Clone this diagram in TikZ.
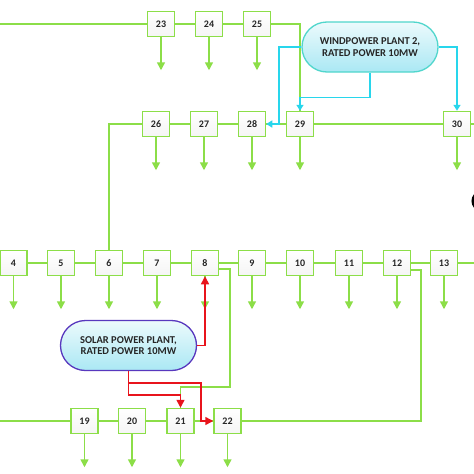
\documentclass[tikz,border=0pt]{standalone}
\usepackage{fontspec}
\setmainfont{Carlito}
\usetikzlibrary{arrows.meta,shapes.misc,calc}
\definecolor{gline}{RGB}{140,222,72}
\definecolor{cyanl}{RGB}{40,214,236}
\definecolor{redl}{RGB}{232,20,28}
\definecolor{windb}{RGB}{80,214,204}
\definecolor{solarb}{RGB}{88,56,190}
\definecolor{ovaltop}{RGB}{236,250,252}
\definecolor{ovalbot}{RGB}{170,232,244}
\tikzset{
  busbox/.style={draw=gline, line width=1.5pt, top color=white, bottom color=black!4,
    minimum width=27pt, minimum height=25pt, inner sep=0pt,
    font=\fontsize{10}{12}\selectfont\bfseries, text=black!85},
  gconn/.style={draw=gline, line width=1.5pt},
  garrow/.style={draw=gline, line width=1.5pt, -{Triangle[width=8pt,length=8pt]}},
  carrow/.style={draw=cyanl, line width=1.5pt, -{Triangle[width=7pt,length=6pt]}},
  rarrow/.style={draw=redl, line width=1.5pt, -{Triangle[width=8pt,length=8pt]}},
  plant/.style={rounded rectangle, line width=1.3pt, top color=ovaltop, bottom color=ovalbot,
    minimum width=136pt, minimum height=50pt, inner sep=0pt, align=center,
    font=\fontsize{10.5}{11.5}\selectfont\bfseries, text=black!85},
}
\begin{document}
\begin{tikzpicture}[x=1pt,y=-1pt]
\useasboundingbox (0,0) rectangle (474,474);
\fill[white] (0,0) rectangle (474,474);
% row 1
\node[busbox] (b23) at (161,24) {23};
\node[busbox] (b24) at (209,24) {24};
\node[busbox] (b25) at (257,24) {25};
% row 2
\node[busbox] (b26) at (156,124) {26};
\node[busbox] (b27) at (204,124) {27};
\node[busbox] (b28) at (252,124) {28};
\node[busbox] (b29) at (300,124) {29};
\node[busbox] (b30) at (457,124) {30};
% row 3
\node[busbox] (b4) at (13.5,263) {4};
\node[busbox] (b5) at (61,263) {5};
\node[busbox] (b6) at (109,263) {6};
\node[busbox] (b7) at (157,263) {7};
\node[busbox] (b8) at (205,263) {8};
\node[busbox] (b9) at (252,263) {9};
\node[busbox] (b10) at (300,263) {10};
\node[busbox] (b11) at (349,263) {11};
\node[busbox] (b12) at (397,263) {12};
\node[busbox] (b13) at (444,263) {13};
% row 4
\node[busbox] (b19) at (84.5,421) {19};
\node[busbox] (b20) at (132,421) {20};
\node[busbox] (b21) at (180.5,421) {21};
\node[busbox] (b22) at (227.5,421) {22};
% plants
\node[plant, draw=windb] (wind) at (370,47) {WINDPOWER PLANT 2,\\RATED POWER 10MW};
\node[plant, draw=solarb] (solar) at (128.5,345.5) {SOLAR POWER PLANT,\\RATED POWER 10MW};
% free ends
\coordinate (e1) at (0,24);
\coordinate (e2) at (474,124);
\coordinate (e3) at (474,263);
\coordinate (e4) at (0,421);
\coordinate (k8) at (230,387);
\coordinate (k12) at (421,421);
\coordinate (cw) at (279,124);
\coordinate (r1) at (180.5,395);
\coordinate (r2) at (201,383);
% green connections
\draw[gconn] (e1) -- (b23) -- (b24) -- (b25);
\draw[gconn] (b25.east) -| (b29.north);
\draw[gconn] (b6.north) |- (b26.west);
\draw[gconn] (b26) -- (b27) -- (b28) -- (b29) -- (b30) -- (e2);
\draw[gconn] (b4) -- (b5) -- (b6) -- (b7) -- (b8) -- (b9) -- (b10) -- (b11) -- (b12) -- (b13) -- (e3);
\draw[gconn] (e4) -- (b19) -- (b20) -- (b21) -- (b22);
\draw[gconn] ($(b8.east)+(0,6)$) -| (k8) -| (b21.north);
\draw[gconn] ($(b12.east)+(0,7)$) -| (k12) -- (b22.east);
% load arrows
\foreach \n in {23,24,25,26,27,28,29,30,4,5,6,7,8,9,10,11,12,13,19,20,21,22}{
  \draw[garrow] (b\n.south) -- ++(0,33);
}
% cyan
\draw[carrow] (wind.south) -- ++(0,25) -| (b29.north);
\draw[carrow] (wind.west) -| (cw) -- (b28.east);
\draw[carrow] (wind.east) -| (b30.north);
% red
\draw[rarrow] (solar.east) -| (b8.south);
\draw[rarrow] (solar.south) |- (r1) -- (b21.north);
\draw[rarrow] (solar.south) |- (r2) |- (b22.west);
% partial black mark at right edge
\draw[black, line width=3pt] (479,201) ellipse (6 and 7.5);
\end{tikzpicture}
\end{document}
